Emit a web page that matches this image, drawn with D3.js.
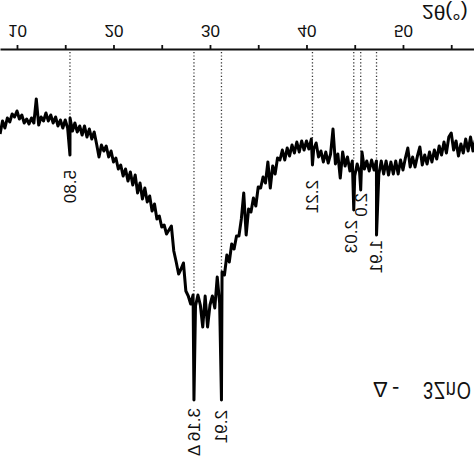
<!DOCTYPE html>
<html>
<head>
<meta charset="utf-8">
<script src="https://cdn.jsdelivr.net/npm/d3@7"></script>
<style>
  html, body { margin: 0; padding: 0; background: #fff; }
  svg { display: block; }
  text { font-family: "Liberation Sans", Arial, sans-serif; fill: #111; }
</style>
</head>
<body>
<svg id="chart" width="474" height="474"></svg>
<script>
// XRD scan (2theta in degrees, counts in a.u.)
var scanAngle = [
  8.25, 8.5, 8.75, 9, 9.25, 9.5, 9.75, 10, 10.25, 10.5,
  10.75, 11, 11.25, 11.5, 11.75, 12, 12.25, 12.5, 12.75, 13,
  13.25, 13.5, 13.75, 14, 14.25, 14.5, 14.75, 15, 15.25, 15.5,
  15.75, 16, 16.25, 16.5, 16.75, 17, 17.25, 17.5, 17.75, 18,
  18.25, 18.5, 18.75, 19, 19.25, 19.5, 19.75, 20, 20.25, 20.5,
  20.75, 21, 21.25, 21.5, 21.75, 22, 22.25, 22.5, 22.75, 23,
  23.25, 23.5, 23.75, 24, 24.25, 24.5, 24.75, 25, 25.25, 25.5,
  25.75, 26, 26.25, 26.5, 26.75, 27, 27.25, 27.5, 27.75, 28,
  28.25, 28.5, 28.75, 29, 29.25, 29.5, 29.75, 30, 30.25, 30.5,
  30.75, 31, 31.25, 31.5, 31.75, 32, 32.25, 32.5, 32.75, 33,
  33.25, 33.5, 33.75, 34, 34.25, 34.5, 34.75, 35, 35.25, 35.5,
  35.75, 36, 36.25, 36.5, 36.75, 37, 37.25, 37.5, 37.75, 38,
  38.25, 38.5, 38.75, 39, 39.25, 39.5, 39.75, 40, 40.25, 40.5,
  40.75, 41, 41.25, 41.5, 41.75, 42, 42.25, 42.5, 42.75, 43,
  43.25, 43.5, 43.75, 44, 44.25, 44.5, 44.75, 45, 45.25, 45.5,
  45.75, 46, 46.25, 46.5, 46.75, 47, 47.25, 47.5, 47.75, 48,
  48.25, 48.5, 48.75, 49, 49.25, 49.5, 49.75, 50, 50.25, 50.5,
  50.75, 51, 51.25, 51.5, 51.75, 52, 52.25, 52.5, 52.75, 53,
  53.25, 53.5, 53.75, 54, 54.25, 54.5, 54.75, 55, 55.25, 55.5,
  55.75, 56, 56.25, 56.5, 56.75, 57, 57.25, 57.5
];
var scanCounts = [
  840, 710, 780, 680, 720, 640, 670, 610, 690, 650,
  730, 690, 740, 680, 730, 490, 750, 670, 710, 630,
  710, 650, 730, 670, 760, 700, 780, 700, 780, 680,
  810, 730, 820, 760, 850, 760, 870, 790, 890, 820,
  940, 1070, 950, 1010, 960, 1070, 1010, 1120, 1080, 1190,
  1150, 1260, 1190, 1310, 1220, 1350, 1250, 1430, 1330, 1490,
  1380, 1520, 1460, 1610, 1540, 1690, 1660, 1770, 1750, 1840,
  1800, 1760, 2010, 2120, 2240, 2190, 2130, 2410, 2460, 2540,
  2450, 2560, 2450, 2550, 2770, 2460, 2770, 2550, 2460, 2580,
  2270, 2530, 2220, 2250, 2050, 2120, 1940, 1990, 1860, 1860,
  1690, 1430, 1850, 1590, 1620, 1480, 1560, 1370, 1380, 1270,
  1330, 1120, 1380, 1160, 1240, 1080, 1100, 1000, 1100, 980,
  1060, 950, 1030, 920, 1020, 910, 1000, 910, 990, 890,
  990, 930, 1070, 1010, 1120, 1020, 1130, 1040, 790, 1140,
  1040, 1280, 1020, 1160, 1070, 1210, 1110, 1260, 1140, 1220,
  1020, 1190, 1110, 1210, 1100, 1200, 1110, 1240, 1110, 1240,
  1110, 1250, 1120, 1240, 1110, 1240, 1100, 1200, 1080, 980,
  1170, 1070, 1170, 1060, 970, 1150, 1050, 1140, 1020, 1120,
  1000, 1090, 960, 1050, 920, 1030, 870, 830, 1000, 910,
  1060, 940, 1030, 890, 1010, 870, 1010, 900
];

// sharp reflections with their d-spacings
var peakAngle = [15.49, 28.34, 31.19, 40.62, 44.90, 45.62, 47.26];
var peakCounts = [1050, 3500, 3500, 1150, 1600, 1400, 1850];
var peakLabel = ["5.80", "3.16 Δ", "2.91", "2.21", "2.03", "2.0", "1.91"];

var tickValues = [10, 15, 20, 25, 30, 35, 40, 45, 50, 55];
var tickLabels = ["10", "", "20", "", "30", "", "40", "", "50", ""];
var axisTitle = "2θ(°)";
var legendMark = "Δ";
var legendText = "3ZnO";

function init() {
  var width = 474;
  var height = 474;
  var svg = d3.select("#chart");
  svg.append("rect").attr("width", width).attr("height", height).attr("fill", "#fff");

  // the figure is printed mirrored top-to-bottom, so draw it normally in a flipped group
  var g = svg.append("g").attr("transform", "translate(0," + height + ") scale(1,-1)");

  var xScale = d3.scaleLinear().domain([8.24, 57.36]).range([0, width]);
  var yScale = d3.scaleLinear().domain([0, 4240]).range([424, 0]);

  // x axis
  var xAxis = d3.axisBottom(xScale)
    .tickValues(tickValues)
    .tickFormat(function (d, i) { return tickLabels[i]; })
    .tickSizeInner(5)
    .tickSizeOuter(0)
    .tickPadding(8);
  var ax = g.append("g").attr("transform", "translate(0,424)").call(xAxis);
  ax.select(".domain").attr("stroke", "#111").attr("stroke-width", 1.8);
  ax.selectAll(".tick line").attr("stroke", "#111").attr("stroke-width", 1.8);
  ax.selectAll(".tick text").attr("font-size", 17).attr("font-family", "Liberation Sans, Arial, sans-serif").attr("fill", "#111");

  g.append("text")
    .attr("x", 422).attr("y", 469)
    .attr("font-size", 21)
    .text(axisTitle);

  // scan + peaks merged into one trace
  var pts = scanAngle.map(function (a, i) { return { a: a, c: scanCounts[i] }; });
  peakAngle.forEach(function (a, i) { pts.push({ a: a, c: peakCounts[i] }); });
  pts.sort(function (p, q) { return p.a - q.a; });

  var line = d3.line()
    .x(function (d) { return xScale(d.a); })
    .y(function (d) { return yScale(d.c); });

  // dotted guides from the axis to the foot of each reflection
  function baseAt(a) {
    var m = Infinity;
    scanAngle.forEach(function (s, i) {
      if (Math.abs(s - a) <= 0.3) m = Math.min(m, scanCounts[i]);
    });
    return m;
  }
  g.selectAll("line.guide").data(peakAngle).enter().append("line")
    .attr("class", "guide")
    .attr("x1", function (d) { return xScale(d); })
    .attr("x2", function (d) { return xScale(d); })
    .attr("y1", yScale(0) - 2)
    .attr("y2", function (d) { return yScale(baseAt(d)); })
    .attr("stroke", "#333")
    .attr("stroke-width", 1.3)
    .attr("stroke-dasharray", "1.2,2.2");

  g.append("path")
    .datum(pts)
    .attr("d", line)
    .attr("fill", "none")
    .attr("stroke", "#000")
    .attr("stroke-width", 3)
    .attr("stroke-linejoin", "round");

  // d-spacing labels above each peak (layout nudges only)
  var labelGap = [15, 8, 10, 15, 10, 3, 5];
  var labelDx = [0, 0, 0, 0, -3, 0, 0];
  g.selectAll("text.dlab").data(peakAngle).enter().append("text")
    .attr("class", "dlab")
    .attr("transform", function (d, i) {
      return "translate(" + (xScale(d) + labelDx[i]) + "," + (yScale(peakCounts[i]) - labelGap[i]) + ") rotate(-90)";
    })
    .attr("dy", "0.35em")
    .attr("font-size", 17)
    .text(function (d, i) { return peakLabel[i]; });

  // phase key
  g.append("text").attr("x", 373).attr("y", 92).attr("font-size", 22).text(legendMark);
  g.append("text").attr("x", 392).attr("y", 92).attr("font-size", 22).text("-");
  g.append("g").attr("transform", "translate(423,92) scale(0.76,1)")
    .append("text").attr("font-size", 24).attr("letter-spacing", 1).text(legendText);
}

init();
</script>
</body>
</html>
